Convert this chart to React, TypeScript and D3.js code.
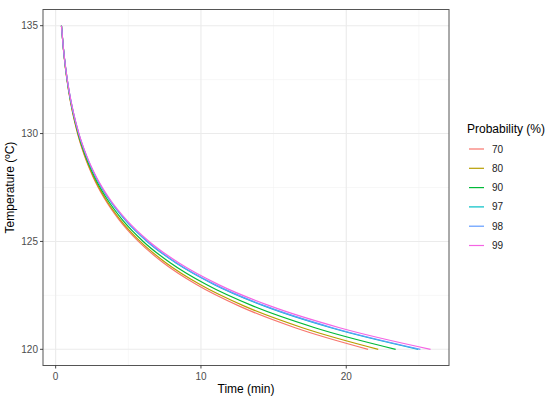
import * as d3 from "d3";

// Temperature levels (ºC) and times (min)
const temps = [135, 134, 133, 132, 131, 130, 129, 128, 127, 126, 125, 124, 123, 122, 121, 120];

const t70 = [0.4, 0.522, 0.68, 0.887, 1.157, 1.509, 1.969, 2.568, 3.349, 4.367, 5.696, 7.429, 9.689, 12.64, 16.48, 21.5];
const t80 = [0.4, 0.523, 0.683, 0.893, 1.167, 1.526, 1.994, 2.606, 3.406, 4.452, 5.818, 7.605, 9.939, 12.99, 16.98, 22.2];
const t90 = [0.4, 0.525, 0.688, 0.903, 1.184, 1.553, 2.037, 2.671, 3.504, 4.596, 6.028, 7.907, 10.37, 13.6, 17.84, 23.4];
const t97 = [0.4, 0.527, 0.694, 0.914, 1.204, 1.586, 2.09, 2.753, 3.626, 4.776, 6.291, 8.287, 10.92, 14.38, 18.94, 24.95];
const t98 = [0.4, 0.527, 0.695, 0.915, 1.206, 1.59, 2.095, 2.76, 3.637, 4.793, 6.317, 8.324, 10.97, 14.46, 19.05, 25.1];
const t99 = [0.4, 0.528, 0.697, 0.92, 1.215, 1.604, 2.118, 2.796, 3.691, 4.873, 6.433, 8.493, 11.21, 14.8, 19.54, 25.8];

const probs = ["70", "80", "90", "97", "98", "99"];
const seriesTimes = [t70, t80, t90, t97, t98, t99];
const colors = ["#F8766D", "#B79F00", "#00BA38", "#00BFC4", "#619CFF", "#F564E3"];

const xTicks = [0, 10, 20];
const xMinor = [5, 15, 25];
const yTicks = [120, 125, 130, 135];
const yMinor = [122.5, 127.5, 132.5];

const W = 550;
const H = 402;
const panel = { left: 43, right: 449, top: 9.5, bottom: 365.5 };
const font = "'Liberation Sans', Arial, Helvetica, sans-serif";

export default function App() {
    const x = d3.scaleLinear().domain([-0.87, 27.07]).range([panel.left, panel.right]);
    const y = d3.scaleLinear().domain([119.25, 135.75]).range([panel.bottom, panel.top]);

    const line = d3.line<[number, number]>()
        .x(d => x(d[0]))
        .y(d => y(d[1]))
        .curve(d3.curveMonotoneX);

    const legendX = 469;
    const legendY0 = 149;
    const legendStep = 19.3;

    return (
        <svg width={W} height={H} style={{ position: "absolute", left: 0, top: 0, background: "#fff" }} fontFamily={font}>
            <rect x={0} y={0} width={W} height={H} fill="#fff" />

            {/* grid */}
            {xMinor.map(v => (
                <line key={"xm" + v} x1={x(v)} x2={x(v)} y1={panel.top} y2={panel.bottom} stroke="#F2F2F2" strokeWidth={0.6} />
            ))}
            {yMinor.map(v => (
                <line key={"ym" + v} x1={panel.left} x2={panel.right} y1={y(v)} y2={y(v)} stroke="#F2F2F2" strokeWidth={0.6} />
            ))}
            {xTicks.map(v => (
                <line key={"xg" + v} x1={x(v)} x2={x(v)} y1={panel.top} y2={panel.bottom} stroke="#EBEBEB" strokeWidth={1.1} />
            ))}
            {yTicks.map(v => (
                <line key={"yg" + v} x1={panel.left} x2={panel.right} y1={y(v)} y2={y(v)} stroke="#EBEBEB" strokeWidth={1.1} />
            ))}

            {/* curves */}
            {seriesTimes.map((ts, i) => (
                <path
                    key={probs[i]}
                    d={line(ts.map((t, j) => [t, temps[j]] as [number, number])) ?? ""}
                    fill="none"
                    stroke={colors[i]}
                    strokeWidth={1.2}
                />
            ))}

            {/* panel border */}
            <rect x={panel.left} y={panel.top} width={panel.right - panel.left} height={panel.bottom - panel.top}
                fill="none" stroke="#555" strokeWidth={1} />

            {/* x axis */}
            {xTicks.map(v => (
                <g key={"xt" + v}>
                    <line x1={x(v)} x2={x(v)} y1={panel.bottom} y2={panel.bottom + 3} stroke="#333" strokeWidth={0.9} />
                    <text x={x(v)} y={panel.bottom + 14} textAnchor="middle" fontSize={10} fill="#4D4D4D">{v}</text>
                </g>
            ))}
            <text x={(panel.left + panel.right) / 2} y={393} textAnchor="middle" fontSize={12} fill="#000">Time (min)</text>

            {/* y axis */}
            {yTicks.map(v => (
                <g key={"yt" + v}>
                    <line x1={panel.left - 3} x2={panel.left} y1={y(v)} y2={y(v)} stroke="#333" strokeWidth={0.9} />
                    <text x={panel.left - 5} y={y(v) + 3.5} textAnchor="end" fontSize={10} fill="#4D4D4D">{v}</text>
                </g>
            ))}
            <text transform={`translate(14, ${(panel.top + panel.bottom) / 2}) rotate(-90)`} textAnchor="middle"
                fontSize={12} fill="#000">Temperature (ºC)</text>

            {/* legend */}
            <text x={467} y={132.5} fontSize={12} fill="#000">Probability (%)</text>
            {probs.map((p, i) => (
                <g key={"lg" + p}>
                    <line x1={legendX} x2={legendX + 15} y1={legendY0 + i * legendStep} y2={legendY0 + i * legendStep}
                        stroke={colors[i]} strokeWidth={1.2} />
                    <text x={492} y={legendY0 + i * legendStep + 3.5} fontSize={10} fill="#222">{p}</text>
                </g>
            ))}
        </svg>
    );
}
